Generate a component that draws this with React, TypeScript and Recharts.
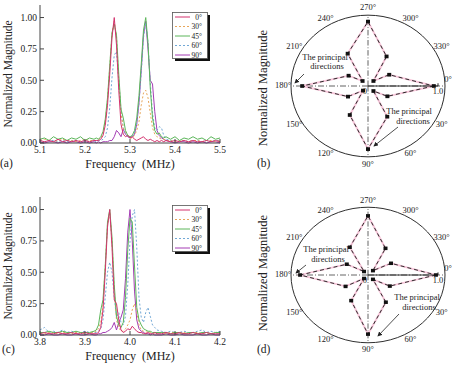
import React from 'react';
import {
  LineChart, Line, XAxis, YAxis, Legend,
  RadarChart, Radar, PolarGrid, PolarAngleAxis, PolarRadiusAxis,
} from 'recharts';

const FONT = '"Liberation Serif", "DejaVu Serif", serif';

// legend / series settings shared by (a) and (c)
const seriesNames = ['0°', '30°', '45°', '60°', '90°'];
const seriesKeys = ['s0', 's30', 's45', 's60', 's90'];
const seriesColors = ['#d4336e', '#e8a65a', '#5cb65a', '#72a8d6', '#a43cb4'];
const seriesDash = [undefined, '2 2', undefined, '2 2', undefined];
const drawOrder = [4, 3, 1, 2, 0];

// (a) spectra, frequency in MHz
const freqA = [
  5.10, 5.11, 5.12, 5.13, 5.14, 5.15, 5.16, 5.17, 5.18, 5.19, 5.20, 5.21, 5.22,
  5.225, 5.23, 5.235, 5.24, 5.245, 5.25, 5.255, 5.26, 5.265, 5.27,
  5.275, 5.28, 5.285, 5.29, 5.295, 5.30, 5.305, 5.31, 5.315, 5.32,
  5.325, 5.33, 5.335, 5.34, 5.345, 5.35, 5.355, 5.36, 5.365, 5.37,
  5.375, 5.38,
  5.39, 5.40, 5.41, 5.42, 5.43, 5.44, 5.45, 5.46, 5.47, 5.48, 5.49, 5.50,
];
const a0 = [
  0.02, 0.01, 0.02, 0.01, 0.03, 0.01, 0.02, 0.01, 0.02, 0.01, 0.02, 0.01, 0.02,
  0.02, 0.02, 0.03, 0.06, 0.14, 0.30, 0.55, 0.84, 1.00, 0.78,
  0.42, 0.15, 0.07, 0.05, 0.06, 0.04, 0.05, 0.03, 0.02, 0.03,
  0.04, 0.05, 0.03, 0.02, 0.03, 0.02, 0.01, 0.02, 0.01, 0.02,
  0.01, 0.02,
  0.01, 0.02, 0.01, 0.02, 0.01, 0.02, 0.01, 0.01, 0.02, 0.01, 0.02, 0.01,
];
const a30 = [
  0.02, 0.03, 0.02, 0.01, 0.02, 0.03, 0.02, 0.02, 0.01, 0.02, 0.03, 0.02, 0.02,
  0.02, 0.03, 0.04, 0.08, 0.17, 0.34, 0.60, 0.87, 0.97, 0.85,
  0.50, 0.24, 0.12, 0.09, 0.06, 0.04, 0.04, 0.06, 0.10, 0.17,
  0.30, 0.40, 0.42, 0.36, 0.24, 0.12, 0.07, 0.05, 0.04, 0.03,
  0.03, 0.02,
  0.02, 0.01, 0.02, 0.02, 0.01, 0.02, 0.02, 0.01, 0.02, 0.02, 0.01, 0.02,
];
const a45 = [
  0.03, 0.04, 0.02, 0.05, 0.03, 0.04, 0.02, 0.04, 0.03, 0.05, 0.02, 0.04, 0.03,
  0.04, 0.03, 0.05, 0.09, 0.19, 0.36, 0.62, 0.88, 0.95, 0.86,
  0.55, 0.27, 0.20, 0.10, 0.06, 0.05, 0.06, 0.10, 0.20, 0.38,
  0.63, 0.90, 1.00, 0.80, 0.44, 0.20, 0.10, 0.07, 0.08, 0.05,
  0.04, 0.05,
  0.03, 0.05, 0.02, 0.04, 0.03, 0.05, 0.03, 0.04, 0.02, 0.05, 0.03, 0.04,
];
const a60 = [
  0.02, 0.01, 0.02, 0.02, 0.01, 0.02, 0.01, 0.02, 0.02, 0.01, 0.02, 0.01, 0.02,
  0.01, 0.02, 0.02, 0.03, 0.05, 0.12, 0.28, 0.52, 0.70, 0.73,
  0.50, 0.26, 0.12, 0.07, 0.05, 0.04, 0.05, 0.08, 0.16, 0.32,
  0.56, 0.84, 0.96, 0.80, 0.48, 0.24, 0.12, 0.10, 0.13, 0.12,
  0.06, 0.03,
  0.02, 0.02, 0.01, 0.02, 0.01, 0.02, 0.02, 0.01, 0.02, 0.01, 0.02, 0.02,
];
const a90 = [
  0.01, 0.00, 0.01, 0.01, 0.00, 0.01, 0.00, 0.01, 0.01, 0.00, 0.01, 0.00, 0.01,
  0.00, 0.01, 0.00, 0.01, 0.01, 0.01, 0.02, 0.02, 0.05, 0.10,
  0.08, 0.05, 0.11, 0.07, 0.05, 0.04, 0.05, 0.07, 0.15, 0.32,
  0.58, 0.86, 0.97, 0.75, 0.50, 0.47, 0.25, 0.10, 0.06, 0.04,
  0.03, 0.02,
  0.01, 0.00, 0.01, 0.01, 0.00, 0.01, 0.00, 0.01, 0.00, 0.01, 0.01, 0.00,
];

// (c) spectra
const freqC = [
  3.80, 3.81, 3.82, 3.83, 3.84, 3.85, 3.86, 3.87, 3.88, 3.89, 3.90, 3.91, 3.92,
  3.925, 3.93, 3.935, 3.94, 3.945, 3.95, 3.955, 3.96, 3.965, 3.97,
  3.975, 3.98, 3.985, 3.99, 3.995, 4.00, 4.005, 4.01, 4.015, 4.02,
  4.025, 4.03, 4.035, 4.04, 4.045, 4.05, 4.055, 4.06,
  4.07, 4.08, 4.09, 4.10, 4.11, 4.12, 4.13, 4.14, 4.15, 4.16, 4.17, 4.18, 4.19, 4.20,
];
const c0 = [
  0.01, 0.02, 0.01, 0.01, 0.02, 0.01, 0.01, 0.02, 0.01, 0.01, 0.02, 0.01, 0.01,
  0.01, 0.02, 0.06, 0.20, 0.50, 0.86, 1.00, 0.70, 0.28, 0.25,
  0.12, 0.04, 0.02, 0.03, 0.05, 0.04, 0.07, 0.05, 0.03, 0.02,
  0.02, 0.01, 0.01, 0.02, 0.01, 0.01, 0.02, 0.01,
  0.01, 0.02, 0.01, 0.01, 0.02, 0.01, 0.01, 0.02, 0.01, 0.01, 0.02, 0.01, 0.01, 0.01,
];
const c30 = [
  0.02, 0.01, 0.02, 0.02, 0.01, 0.02, 0.02, 0.01, 0.02, 0.02, 0.01, 0.02, 0.02,
  0.03, 0.05, 0.10, 0.24, 0.55, 0.88, 0.98, 0.75, 0.35, 0.12,
  0.06, 0.03, 0.03, 0.05, 0.08, 0.12, 0.20, 0.25, 0.18, 0.08,
  0.04, 0.03, 0.02, 0.03, 0.02, 0.02, 0.01, 0.02,
  0.02, 0.01, 0.02, 0.02, 0.01, 0.02, 0.01, 0.02, 0.02, 0.01, 0.02, 0.01, 0.02, 0.02,
];
const c45 = [
  0.02, 0.02, 0.03, 0.02, 0.02, 0.03, 0.02, 0.02, 0.03, 0.02, 0.02, 0.02, 0.03,
  0.04, 0.08, 0.20, 0.28, 0.55, 0.90, 1.00, 0.78, 0.40, 0.15,
  0.08, 0.06, 0.10, 0.30, 0.68, 0.93, 0.90, 0.55, 0.22, 0.12,
  0.08, 0.05, 0.04, 0.03, 0.03, 0.02, 0.02, 0.02,
  0.02, 0.02, 0.01, 0.02, 0.02, 0.01, 0.02, 0.02, 0.01, 0.02, 0.02, 0.01, 0.02, 0.02,
];
const c60 = [
  0.04, 0.06, 0.02, 0.03, 0.02, 0.04, 0.02, 0.03, 0.02, 0.02, 0.03, 0.02, 0.02,
  0.02, 0.03, 0.05, 0.12, 0.30, 0.50, 0.58, 0.50, 0.30, 0.14,
  0.18, 0.10, 0.08, 0.15, 0.40, 0.75, 0.95, 1.00, 0.70, 0.30,
  0.14, 0.10, 0.18, 0.22, 0.15, 0.08, 0.06, 0.04,
  0.03, 0.02, 0.03, 0.02, 0.02, 0.03, 0.02, 0.02, 0.03, 0.04, 0.02, 0.03, 0.02, 0.03,
];
const c90 = [
  0.00, 0.00, 0.01, 0.00, 0.00, 0.01, 0.00, 0.00, 0.01, 0.00, 0.00, 0.01, 0.00,
  0.00, 0.01, 0.01, 0.02, 0.02, 0.03, 0.04, 0.06, 0.10, 0.04,
  0.10, 0.14, 0.20, 0.45, 0.82, 1.00, 0.75, 0.35, 0.12, 0.05,
  0.03, 0.02, 0.01, 0.01, 0.00, 0.01, 0.00, 0.00,
  0.00, 0.01, 0.00, 0.00, 0.01, 0.00, 0.00, 0.00, 0.01, 0.00, 0.00, 0.01, 0.00, 0.00,
];

const ticksA = [5.1, 5.2, 5.3, 5.4, 5.5];
const ticksC = [3.8, 3.9, 4.0, 4.1, 4.2];
const magTicks = [0, 0.25, 0.5, 0.75, 1.0];

// polar plots: measurement angle in degrees and normalized magnitude
const polarAngles = [0, 30, 45, 60, 90, 120, 135, 150, 180, 210, 225, 240, 270, 300, 315, 330];
const abf = [0.94, 0.32, 0.11, 0.55, 0.98, 0.52, 0.10, 0.33, 0.94, 0.32, 0.11, 0.58, 1.00, 0.53, 0.11, 0.35];
const dpv = [0.97, 0.36, 0.10, 0.51, 0.96, 0.48, 0.08, 0.37, 0.97, 0.35, 0.08, 0.52, 0.96, 0.50, 0.10, 0.38];

const buildSpectra = (freq: number[], cols: number[][]) =>
  freq.map((f, i) => {
    const row: Record<string, number> = { f };
    seriesKeys.forEach((k, j) => { row[k] = cols[j][i]; });
    return row;
  });

const tableA = buildSpectra(freqA, [a0, a30, a45, a60, a90]);
const tableC = buildSpectra(freqC, [c0, c30, c45, c60, c90]);
const tableB = polarAngles.map((angle, i) => ({ angle, v: abf[i] }));
const tableD = polarAngles.map((angle, i) => ({ angle, v: dpv[i] }));

const tickStyle = { fontSize: 9.5, fill: '#222', fontFamily: FONT };

function LegendBox() {
  return (
    <svg width={40} height={52} style={{ display: 'block', overflow: 'visible' }}>
      <rect x={3} y={3} width={35} height={46} fill="#111" />
      <rect x={0.5} y={0.5} width={35} height={46} fill="#fff" stroke="#555" strokeWidth={0.8} />
      {seriesNames.map((n, i) => (
        <g key={n}>
          <line x1={3} x2={18} y1={5 + i * 9.5} y2={5 + i * 9.5}
            stroke={seriesColors[i]} strokeWidth={1} strokeDasharray={seriesDash[i]} />
          <text x={30} y={5 + i * 9.5} dy="0.35em" textAnchor="end" fontSize={7.5}
            fontFamily={FONT} fill="#222">{n}</text>
        </g>
      ))}
    </svg>
  );
}

function SpectrumPanel({ data, domain, ticks, top, legendTop }: any) {
  return (
    <div style={{ position: 'absolute', left: 0, top }}>
      <LineChart width={230} height={175} data={data} margin={{ top: 5, right: 10, bottom: 2, left: 2 }}>
        <XAxis dataKey="f" type="number" domain={domain} ticks={ticks}
          tickFormatter={(v: number) => v.toFixed(1)} tickSize={-4} tickMargin={7}
          height={30} stroke="#444" tick={tickStyle}
          label={{ value: 'Frequency\u00a0 (MHz)', position: 'insideBottom', offset: 5,
            style: { fontSize: 12, fill: '#222', fontFamily: FONT } }} />
        <XAxis xAxisId="top" orientation="top" dataKey="f" type="number" domain={domain}
          height={0} tick={false} tickLine={false} stroke="#444" />
        <YAxis domain={[0, 1.1]} ticks={magTicks} tickFormatter={(v: number) => v.toFixed(2)}
          tickSize={-4} tickMargin={7} width={38} stroke="#444" tick={tickStyle}
          label={{ value: 'Normalized Magnitude', angle: -90, position: 'insideLeft', offset: 6,
            style: { textAnchor: 'middle', fontSize: 11.5, fill: '#222', fontFamily: FONT } }} />
        <YAxis yAxisId="right" orientation="right" domain={[0, 1.1]} width={0}
          tick={false} tickLine={false} stroke="#444" />
        {drawOrder.map((j) => (
          <Line key={seriesKeys[j]} dataKey={seriesKeys[j]} name={seriesNames[j]} type="linear"
            stroke={seriesColors[j]} strokeWidth={1} strokeDasharray={seriesDash[j]}
            dot={false} isAnimationActive={false} />
        ))}
        <Legend layout="vertical" align="center" verticalAlign="middle" content={() => <LegendBox />}
          wrapperStyle={{ left: 172, top: legendTop, width: 40, height: 52 }} />
      </LineChart>
    </div>
  );
}

function AngleTick(props: any) {
  const { x, y, payload } = props;
  const a = Number(payload.value);
  if (a % 30 !== 0 || a >= 360) return <g />;
  const up = a === 0 ? -7 : 0;
  const left = a === 0 ? -5 : 0;
  return (
    <text x={x + left} y={y + up} textAnchor="middle" dominantBaseline="central"
      fontSize={8.5} fontFamily={FONT} fill="#222">{a}°</text>
  );
}

function RadiusTick(props: any) {
  const { x, y, payload, axisName, italic } = props;
  const v = Math.round(Number(payload.value) * 10);
  const txt = { fontSize: 8.5, fontFamily: FONT, fill: '#222' };
  if (v === 0) {
    return <text x={x - 3} y={y + 6} textAnchor="middle" dominantBaseline="central" {...txt}>0</text>;
  }
  if (v === 5 || v === 10) {
    return (
      <g>
        <line x1={x} x2={x} y1={y} y2={y - 3} stroke="#222" />
        <text x={x} y={y + 6} textAnchor="middle" dominantBaseline="central" {...txt}>{(v / 10).toFixed(1)}</text>
      </g>
    );
  }
  if (v === 11) {
    return (
      <g>
        <line x1={x} x2={x + 14} y1={y} y2={y} stroke="#222" />
        <polygon points={`${x + 19},${y} ${x + 12},${y - 2.5} ${x + 12},${y + 2.5}`} fill="#222" />
        <text x={x + 12} y={y + 7} textAnchor="middle" dominantBaseline="central"
          fontStyle={italic ? 'italic' : 'normal'} {...txt}>{axisName}</text>
      </g>
    );
  }
  return <g />;
}

function SquareDot(props: any) {
  const { cx, cy } = props;
  if (!Number.isFinite(cx) || !Number.isFinite(cy)) return <g />;
  return <rect x={cx - 2} y={cy - 2} width={4} height={4} fill="#111" />;
}

function PolarPanel({ data, top, cy, squish, axisName, italic }: any) {
  return (
    <div style={{ position: 'absolute', left: 263, top, width: 211, height: 200,
      transform: `scaleY(${squish})`, transformOrigin: `105px ${cy}px` }}>
      <RadarChart width={211} height={200} data={data} cx={105} cy={cy} outerRadius={77}
        startAngle={0} endAngle={-360} margin={{ top: 0, right: 0, bottom: 0, left: 0 }}>
        <PolarGrid gridType="circle" polarAngles={[0, 90, 180, 270]} polarRadius={[0]}
          stroke="#333" strokeWidth={0.8} strokeDasharray="6 2 1 2" />
        <PolarAngleAxis dataKey="angle" type="number" domain={[0, 360]} tickCount={13}
          tickLine={false} tickSize={8} stroke="#222" axisLineType="circle"
          axisLine={{ stroke: '#222', strokeWidth: 1 }} tick={(p: any) => <AngleTick {...p} />} />
        <PolarRadiusAxis angle={0} domain={[0, 1.1]} tickCount={12} tickLine={false}
          axisLine={{ stroke: '#222', strokeWidth: 1 }}
          tick={(p: any) => <RadiusTick {...p} axisName={axisName} italic={italic} />} />
        <Radar dataKey="v" stroke="#f7c6da" strokeWidth={2} fill="none" fillOpacity={0}
          dot={false} isAnimationActive={false} />
        <Radar dataKey="v" stroke="#222" strokeWidth={1} strokeDasharray="4 3" fill="none" fillOpacity={0}
          dot={(p: any) => <SquareDot key={p.index} {...p} />} isAnimationActive={false} />
      </RadarChart>
    </div>
  );
}

function Notes() {
  const t = { fontSize: 8.5, fontFamily: FONT, fill: '#222', textAnchor: 'middle' as const };
  const big = { fontSize: 12.5, fontFamily: FONT, fill: '#222', textAnchor: 'middle' as const };
  const lbl = { fontSize: 11.5, fontFamily: FONT, fill: '#222' };
  return (
    <svg width={474} height={366} style={{ position: 'absolute', left: 0, top: 0, pointerEvents: 'none' }}>
      <defs>
        <marker id="ah" markerWidth="6" markerHeight="6" refX="5" refY="3" orient="auto">
          <path d="M0,0 L6,3 L0,6 z" fill="#222" />
        </marker>
      </defs>
      <text x={0} y={167} {...lbl}>(a)</text>
      <text x={2} y={353} {...lbl}>(c)</text>
      <text x={257} y={167} {...lbl}>(b)</text>
      <text x={257} y={353} {...lbl}>(d)</text>
      <text transform="translate(267,88) rotate(-90)" {...big}>Normalized Magnitude</text>
      <text transform="translate(267,273) rotate(-90)" {...big}>Normalized Magnitude</text>

      <text x={325} y={60} {...t}>The principal</text>
      <text x={327} y={69} {...t}>directions</text>
      <line x1={304} y1={74} x2={295} y2={83} stroke="#222" strokeWidth={0.8} markerEnd="url(#ah)" />
      <text x={409} y={114} {...t}>The principal</text>
      <text x={413} y={124} {...t}>directions</text>
      <line x1={398} y1={127} x2={374} y2={146} stroke="#222" strokeWidth={0.8} markerEnd="url(#ah)" />

      <text x={326} y={252} {...t}>The principal</text>
      <text x={328} y={262} {...t}>directions</text>
      <line x1={306} y1={265} x2={296} y2={273} stroke="#222" strokeWidth={0.8} markerEnd="url(#ah)" />
      <text x={417} y={300} {...t}>The principal</text>
      <text x={419} y={310} {...t}>directions</text>
      <line x1={399} y1={314} x2={378} y2={336} stroke="#222" strokeWidth={0.8} markerEnd="url(#ah)" />
    </svg>
  );
}

export default function App() {
  return (
    <div style={{ position: 'absolute', left: 0, top: 0, width: 474, height: 366, background: '#fff', overflow: 'hidden' }}>
      <SpectrumPanel data={tableA} domain={[5.1, 5.5]} ticks={ticksA} top={0} legendTop={12} />
      <SpectrumPanel data={tableC} domain={[3.8, 4.2]} ticks={ticksC} top={192} legendTop={13} />
      <PolarPanel data={tableB} top={-12} cy={98} squish={0.92} axisName="ABF" />
      <PolarPanel data={tableD} top={175} cy={100} squish={0.88} axisName="ΔPV" italic />
      <Notes />
    </div>
  );
}
